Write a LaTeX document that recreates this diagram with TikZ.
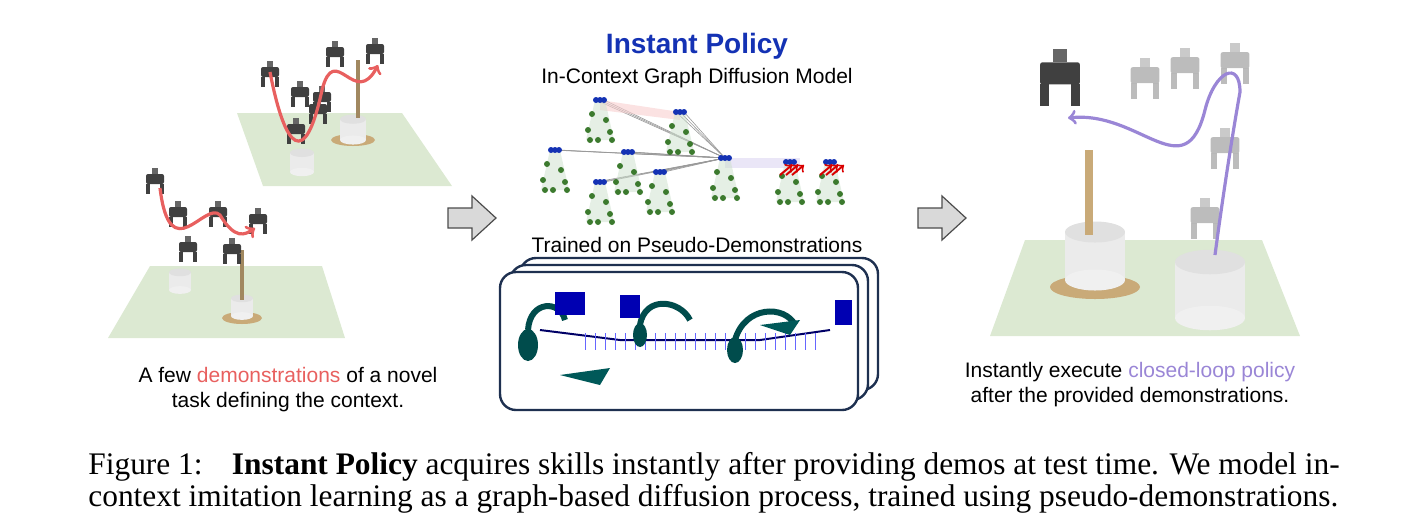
\documentclass[tikz,border=0pt]{standalone}
\usepackage{fontspec}
\setmainfont{Liberation Serif}
\setsansfont{Liberation Sans}
\definecolor{plane}{HTML}{DCE9D2}
\definecolor{demored}{HTML}{E8605F}
\definecolor{purp}{HTML}{9A86D6}
\definecolor{ipblue}{HTML}{1432B4}
\definecolor{frameblue}{HTML}{1E3050}
\definecolor{wood}{HTML}{C9AA78}
\definecolor{gnode}{HTML}{3C7A2E}
\tikzset{
 x=0.5pt,y=-0.5pt,
 lbl/.style={font=\sffamily\fontsize{10.5}{12.5}\selectfont,align=center},
 plate/.style={fill=plane,draw=none},
 card/.style={draw=frameblue,line width=1.2pt,rounded corners=8pt,fill=white},
 pics/bigarrow/.style={code={
   \draw[black!70,fill=black!15,line width=0.6pt] (-24,-10) -- (0,-10) -- (0,-22) -- (24,0) -- (0,22) -- (0,10) -- (-24,10) -- cycle;}},
 pics/grip/.style={code={
   \fill[black!75,rounded corners=1pt] (-9,-8) rectangle (9,2);
   \fill[black!75] (-9,2) rectangle (-5,12);
   \fill[black!75] (5,2) rectangle (9,12);
   \fill[black!60] (-3,-14) rectangle (3,-8);}},
 pics/roll/.style={code={
   \fill[black!8] (-#1,0) rectangle (#1,-1.6*#1);
   \fill[black!12] (0,-1.6*#1) ellipse ({#1} and {0.35*#1});
   \fill[black!6] (0,0) ellipse ({#1} and {0.35*#1});}},
 gn/.style={circle,fill=gnode,inner sep=0pt,minimum size=3pt},
 bn/.style={circle,fill=ipblue,inner sep=0pt,minimum size=3pt},
}
\begin{document}
\begin{tikzpicture}
\useasboundingbox (0,0) rectangle (1426,527);
% ---------- left panel ----------
\fill[plate] (237,113) -- (402,113) -- (452,186) -- (263,186) -- cycle;
\fill[plate] (150,266) -- (322,266) -- (345,338) -- (108,338) -- cycle;
\fill[wood] (353,140) ellipse (22 and 6);
\pic at (353,140) {roll=13};
\fill[wood!80!black] (356,60) rectangle (360,118);
\pic at (302,172) {roll=12};
\fill[wood] (242,318) ellipse (20 and 6);
\pic at (242,316) {roll=11};
\fill[wood!80!black] (240,250) rectangle (244,300);
\pic at (180,290) {roll=11};
\foreach \p in {(270,75),(300,95),(318,112),(296,132),(335,55),(375,52),(322,100)} \pic at \p {grip};
\foreach \p in {(155,182),(178,215),(218,215),(258,222),(188,250),(232,252)} \pic at \p {grip};
\draw[demored,line width=1.6pt,->] (270,72) .. controls (285,150) and (305,170) .. (322,90) .. controls (335,40) and (355,110) .. (378,65);
\draw[demored,line width=1.6pt,->] (160,188) .. controls (170,270) and (205,200) .. (220,215) .. controls (235,240) and (245,235) .. (255,228);
\node[lbl] (t1) at (288,390) {A few {\color{demored}demonstrations} of a novel\\task defining the context.};
% arrows
\pic at (472,218) {bigarrow};
\pic at (942,218) {bigarrow};
% ---------- middle ----------
\node[font=\sffamily\bfseries\fontsize{14}{16}\selectfont,text=ipblue] (ttl) at (697,46) {Instant Policy};
\node[lbl] (sub) at (697,78) {In-Context Graph Diffusion Model};
\coordinate (hub) at (725,158);
\foreach \x/\y in {600/100,680/112,555/150,628/152,660/172,600/182}
  \foreach \d in {-4,0,4} \draw[black!40,line width=0.3pt] (\x+\d,\y) -- (hub);
\fill[demored!30,opacity=0.6] (600,100) -- (680,112) -- (680,120) -- (600,110) -- cycle;
\fill[purp!30,opacity=0.7] (725,158) -- (800,158) -- (800,168) -- (725,168) -- cycle;
\foreach \x/\y in {600/100,680/112,555/150,628/152,660/172,600/182,725/158,790/162,830/162}{
  \fill[green!40!black!20,opacity=0.5] (\x-5,\y) -- (\x+5,\y) -- (\x+14,\y+40) -- (\x-14,\y+40) -- cycle;
  \foreach \d in {-4,0,4} \node[bn] at (\x+\d,\y) {};
  \foreach \d/\e in {-8/14,6/20,-12/30,10/32,-2/40,12/40,-10/40} \node[gn] at (\x+\d,\y+\e) {};
}
\foreach \x in {790,830} \foreach \d in {0,6,12} \draw[red!85!black,line width=1pt,->] (\x-10+\d,175) -- ++(12,-10);
\node[lbl] (sub2) at (697,245) {Trained on Pseudo-Demonstrations};
\draw[card] (520,258) rectangle (878,390);
\draw[card] (510,265) rectangle (868,400);
\draw[card] (500,272) rectangle (858,410);
\draw[blue!40!black,line width=1pt] (540,330) -- (620,340) -- (690,340) -- (760,340) -- (830,330);
\foreach \x in {585,595,...,815} \draw[blue!60,line width=0.5pt] (\x,333) -- (\x,350);
\fill[teal!60!black] (528,345) ellipse (10 and 16);
\draw[teal!60!black,line width=3pt] (528,330) .. controls (530,300) and (560,300) .. (565,320);
\fill[teal!60!black] (640,335) ellipse (7 and 12);
\draw[teal!60!black,line width=3pt] (640,325) .. controls (645,295) and (680,300) .. (690,320);
\fill[teal!60!black] (735,350) ellipse (8 and 13);
\draw[teal!60!black,line width=3pt] (735,340) .. controls (745,305) and (785,305) .. (795,325);
\fill[blue!70!black] (555,292) rectangle (585,315);
\fill[blue!70!black] (620,295) rectangle (640,318);
\fill[blue!70!black] (835,300) rectangle (852,325);
\fill[teal!70!black] (560,375) -- (610,368) -- (600,385) -- cycle;
\fill[teal!70!black] (760,325) -- (800,320) -- (790,335) -- cycle;
% ---------- right panel ----------
\fill[plate] (1025,240) -- (1262,240) -- (1300,336) -- (990,336) -- cycle;
\fill[wood] (1095,287) ellipse (45 and 12);
\pic at (1095,280) {roll=30};
\fill[wood] (1085,150) rectangle (1093,235);
\pic at (1210,318) {roll=35};
\foreach \p in {(1145,80),(1185,70),(1235,65),(1225,150),(1205,220)} \pic[opacity=0.35,scale=1.6] at \p {grip};
\pic[scale=2.2] at (1060,80) {grip};
\draw[purp,line width=1.6pt,->] (1215,255) .. controls (1225,180) and (1235,120) .. (1240,92) .. controls (1240,60) and (1215,70) .. (1205,110) .. controls (1185,190) and (1140,110) .. (1068,118);
\node[lbl] (t3) at (1130,385) {Instantly execute {\color{purp}closed-loop policy}\\after the provided demonstrations.};
% ---------- caption ----------
\node[font=\fontsize{15.7}{16}\selectfont,align=left,anchor=north west,inner sep=0pt] (cap) at (88,452) {Figure 1:\hspace{0.6em} \textbf{Instant Policy} acquires skills instantly after providing demos at test time. We model in-\\context imitation learning as a graph-based diffusion process, trained using pseudo-demonstrations.};
\end{tikzpicture}
\end{document}
